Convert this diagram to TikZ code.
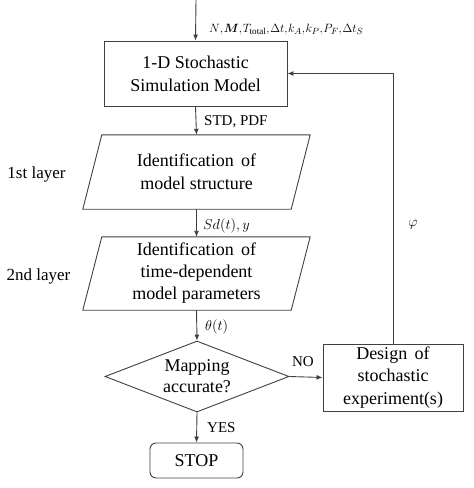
\documentclass[tikz,border=0pt]{standalone}
\usepackage{amsmath}
\usepackage{fontspec}
\setmainfont{Liberation Serif}
\usetikzlibrary{arrows.meta,shapes.geometric}
\tikzset{
  ln/.style={draw=black!75, line width=0.9pt},
  arr/.style={ln, -{Latex[length=6pt,width=5pt]}},
  boxtxt/.style={font=\fontsize{18}{23}\selectfont, align=center, text=black},
  lbl/.style={font=\fontsize{15}{18}\selectfont, text=black, inner sep=0pt},
  mlbl/.style={font=\fontsize{14.5}{17}\selectfont, text=black, inner sep=0pt},
  sidelbl/.style={font=\fontsize{17}{20}\selectfont, text=black, inner sep=0pt},
}
\begin{document}
\begin{tikzpicture}[x=1pt,y=-1pt]
\useasboundingbox (0,0) rectangle (474,488);
% nodes
\coordinate (start) at (196,0);
\node[ln, boxtxt, rectangle, minimum width=183pt, minimum height=65pt, inner sep=0pt] (sim) at (195.5,73.5) {1-D Stochastic\\Simulation Model};
\node[boxtxt, rectangle, minimum width=227pt, minimum height=74pt, inner sep=0pt] (id1) at (196.5,172) {Identification\, of\\model structure};
\node[boxtxt, rectangle, minimum width=227pt, minimum height=73pt, inner sep=0pt, font=\fontsize{18}{22}\selectfont] (id2) at (196.5,273.5) {Identification\, of\\time-dependent\\model parameters};
\node[ln, boxtxt, diamond, minimum width=184pt, minimum height=71pt, inner sep=0pt, aspect=2.59, font=\fontsize{18}{21}\selectfont] (map) at (197,376.5) {Mapping\\accurate?};
\node[ln, boxtxt, rectangle, minimum width=140pt, minimum height=67pt, inner sep=0pt, font=\fontsize{18}{22.5}\selectfont] (des) at (393,377.5) {Design\, of\\stochastic\\experiment(s)};
\node[ln, boxtxt, rectangle, rounded corners=6pt, minimum width=93pt, minimum height=35pt, inner sep=0pt] (stop) at (196.5,460.5) {STOP};
% parallelogram outlines
\draw[ln] ([xshift=19pt]id1.north west) -- (id1.north east) -- ([xshift=-19pt]id1.south east) -- (id1.south west) -- cycle;
\draw[ln] ([xshift=19pt]id2.north west) -- (id2.north east) -- ([xshift=-19pt]id2.south east) -- (id2.south west) -- cycle;
% connectors
\draw[arr] (start) -- (sim.north);
\draw[arr] (sim.south) -- (id1.north);
\draw[arr] (id1.south) -- (id2.north);
\draw[arr] (id2.south) -- (map.north);
\draw[arr] (map.east) -- (des.west);
\draw[arr] (map.south) -- (stop.north);
\draw[arr] (des.north) |- (sim.east);
% labels
\node[mlbl, anchor=west, font=\fontsize{13}{16}\selectfont] (lin) at (209,29) {$N{,}\mkern1mu\boldsymbol{M}{,}\mkern1mu T_{\mathrm{total}}{,}\mkern1mu\Delta t{,}\mkern1mu k_A{,}\mkern1mu k_P{,}\mkern1mu P_F{,}\mkern1mu\Delta t_S$};
\node[lbl, anchor=west] (lstd) at (204,122) {STD, PDF};
\node[mlbl, anchor=west] (lsd) at (203,226) {$Sd(t), y$};
\node[mlbl, anchor=west] (lth) at (205,327) {$\theta(t)$};
\node[lbl] (lno) at (303,362) {NO};
\node[lbl, anchor=west] (lyes) at (207,428) {YES};
\node[mlbl] (lphi) at (413,225) {$\varphi$};
\node[sidelbl] (l1) at (36.5,174) {1st layer};
\node[sidelbl] (l2) at (38.5,276) {2nd layer};
\end{tikzpicture}
\end{document}
